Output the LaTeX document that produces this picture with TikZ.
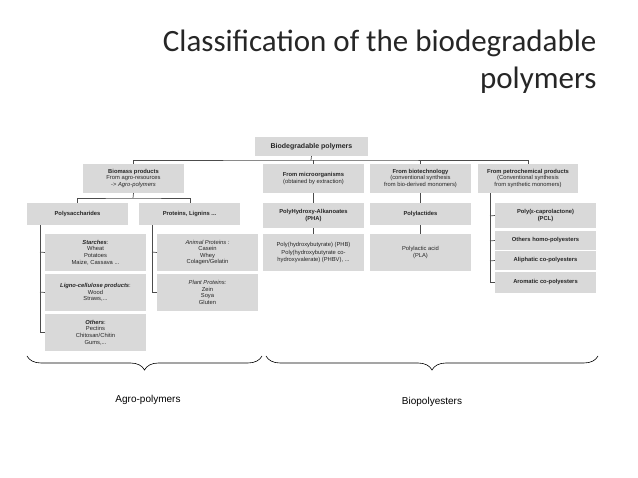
\documentclass[tikz,border=0pt]{standalone}
\usepackage{fontspec}
\setmainfont{Liberation Sans}
\newfontfamily\titlefont{Carlito}
\usetikzlibrary{decorations.pathreplacing}
\begin{document}
\begin{tikzpicture}[x=1pt,y=-1pt,
  bx/.style={fill=black!15,draw=none,inner sep=0pt,align=center,font=\fontsize{5.8}{6.6}\selectfont,text=black!85},
  ln/.style={draw=black!70,line width=0.7pt}]
\useasboundingbox (0,0) rectangle (638,478);
\node[anchor=east,align=right,font=\titlefont\fontsize{31}{37}\selectfont,text=black!85] (title) at (600,62) {Classification of the biodegradable\\polymers};
\newcommand{\bb}[6]{\node[bx,minimum width=#3-#2,minimum height=#5-#4] (#1) at ({(#2+#3)/2},{(#4+#5)/2}) {#6};}
\bb{root}{255}{368}{137}{156}{\fontsize{7}{8}\selectfont\bfseries Biodegradable polymers}
\bb{bio}{83}{184}{164}{193}{\textbf{Biomass products}\\From agro-resources\\-> \textit{Agro-polymers}}
\bb{mic}{263}{364}{164}{193}{\textbf{From microorganisms}\\(obtained by extraction)}
\bb{tec}{370}{471}{164}{193}{\textbf{From biotechnology}\\(conventional synthesis\\from bio-derived monomers)}
\bb{pet}{478}{578}{164}{193}{\textbf{From petrochemical products}\\(Conventional synthesis\\from synthetic monomers)}
\bb{pol}{27}{128}{203}{225}{\textbf{Polysaccharides}}
\bb{pro}{139}{240}{203}{225}{\textbf{Proteins, Lignins ...}}
\bb{pha}{263}{364}{203}{228}{\textbf{PolyHydroxy-Alkanoates}\\\textbf{(PHA)}}
\bb{pla}{370}{471}{203}{225}{\textbf{Polylactides}}
\bb{pcl}{495}{596}{203}{228}{\textbf{Poly(ε-caprolactone)}\\\textbf{(PCL)}}
\bb{sta}{45}{146}{234}{271}{\textit{\textbf{Starches}}:\\Wheat\\Potatoes\\Maize, Cassava ...}
\bb{lig}{45}{146}{274}{311}{\textit{\textbf{Ligno-cellulose products}}:\\Wood\\Straws,...}
\bb{oth}{45}{146}{314}{351}{\textit{\textbf{Others}}:\\Pectins\\Chitosan/Chitin\\Gums,...}
\bb{ani}{157}{258}{234}{271}{\textit{Animal Proteins :}\\Casein\\Whey\\Colagen/Gelatin}
\bb{pla2}{157}{258}{274}{311}{\textit{Plant Proteins:}\\Zein\\Soya\\Gluten}
\bb{phb}{263}{364}{234}{271}{Poly(hydroxybutyrate) (PHB)\\[2pt]Poly(hydroxybutyrate co-\\hydroxyvalerate) (PHBV), ...}
\bb{plaa}{370}{471}{234}{271}{Polylactic acid\\(PLA)}
\bb{hom}{495}{596}{231}{250}{\textbf{Others homo-polyesters}}
\bb{ali}{495}{596}{251}{270}{\textbf{Aliphatic co-polyesters}}
\bb{aro}{495}{596}{272}{293}{\textbf{Aromatic co-polyesters}}
% connectors
\draw[ln] (root.south) -- (311,160) coordinate (t);
\draw[ln] (bio.north) |- (t) -| (pet.north);
\draw[ln] (mic.north) -- (mic.north|-t);
\draw[ln] (tec.north) -- (tec.north|-t);
\draw[ln] (bio.south) -- (133,198) coordinate (u);
\draw[ln] (pol.north -| 77,0) |- (u) -| (pro.north -| 190,0);
\draw[ln] (mic.south) -- (pha.north);
\draw[ln] (tec.south) -- (pla.north);
\draw[ln] (pha.south) -- (phb.north);
\draw[ln] (pla.south) -- (plaa.north);
\draw[ln] (pol.south -| 40,0) |- (oth.west);
\draw[ln] (40,252) -- (sta.west);
\draw[ln] (40,292) -- (lig.west);
\draw[ln] (pro.south -| 152,0) |- (pla2.west);
\draw[ln] (152,252) -- (ani.west);
\draw[ln] (pet.south -| 490,0) |- (aro.west);
\draw[ln] (490,216) -- (pcl.west);
\draw[ln] (490,241) -- (hom.west);
\draw[ln] (490,261) -- (ali.west);
% braces
\draw[line width=0.6pt,decorate,decoration={brace,mirror,amplitude=14pt}] (27,356) -- (262,356);
\draw[line width=0.6pt,decorate,decoration={brace,mirror,amplitude=14pt}] (266,356) -- (598,356);
\node[font=\fontsize{10}{12}\selectfont] (agro) at (148,400) {Agro-polymers};
\node[font=\fontsize{10}{12}\selectfont] (biop) at (432,402) {Biopolyesters};
\end{tikzpicture}
\end{document}
